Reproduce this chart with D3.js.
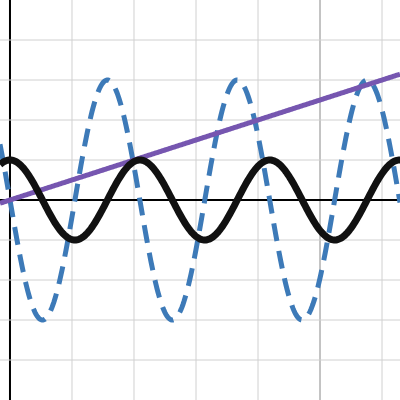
<!DOCTYPE html>
<html><head><meta charset="utf-8">
<script src="https://cdn.jsdelivr.net/npm/d3@7"></script>
<style>body{margin:0;background:#fff}</style></head>
<body><svg id="c" width="400" height="400"></svg>
<script>
// view window
const xDomain = [-0.161, 6.29];
const yDomain = [-5, 5];
const xTicks = [0,1,2,3,4,5,6];
const yTicks = [-4,-3,-2,-1,0,1,2,3,4];
// curves: y = amp * trig(freq*x)
const curveNames = ["cos", "dsin"];
const curveAmps = [1, -3];
const curveFreqs = [3, 3];
const curveColors = ["#111111", "#3d7ab8"];
// line: y = slope*x
const lineSlope = [0.5];

const W=400,H=400;
const svg=d3.select("#c");
const x=d3.scaleLinear().domain(xDomain).range([0,W]);
const y=d3.scaleLinear().domain(yDomain).range([H,0]);
const g=svg.append("g");
xTicks.forEach(t=>g.append("line").attr("x1",x(t)).attr("x2",x(t)).attr("y1",0).attr("y2",H)
  .attr("stroke",t===0?"#000":(t===5?"#888":"#d0d0d0")).attr("stroke-width",t===0?2:1));
yTicks.forEach(t=>g.append("line").attr("y1",y(t)).attr("y2",y(t)).attr("x1",0).attr("x2",W)
  .attr("stroke",t===0?"#000":"#d0d0d0").attr("stroke-width",t===0?2:1));
const xs=d3.range(0,401).map(i=>x.invert(i));
const line=d3.line().x(d=>x(d[0])).y(d=>y(d[1]));
// dashed blue first
svg.append("path").datum(xs.map(v=>[v,curveAmps[1]*Math.sin(curveFreqs[1]*v)]))
 .attr("d",line).attr("fill","none").attr("stroke",curveColors[1]).attr("stroke-width",5)
 .attr("stroke-dasharray","18,10");
svg.append("path").datum(xs.map(v=>[v,lineSlope[0]*v]))
 .attr("d",line).attr("fill","none").attr("stroke","#7656b0").attr("stroke-width",5);
svg.append("path").datum(xs.map(v=>[v,curveAmps[0]*Math.cos(curveFreqs[0]*v)]))
 .attr("d",line).attr("fill","none").attr("stroke",curveColors[0]).attr("stroke-width",7);
</script></body></html>
